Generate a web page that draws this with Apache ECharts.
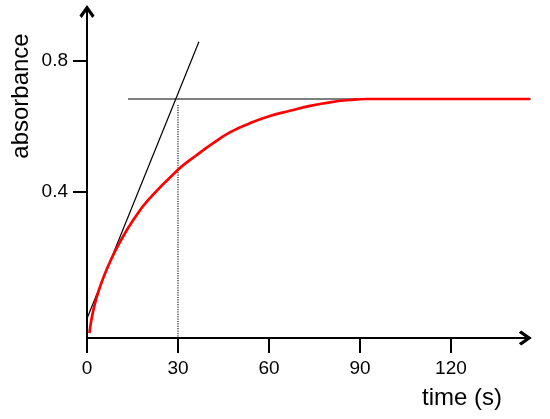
<!DOCTYPE html>
<html>
<head>
<meta charset="utf-8">
<script src="https://cdn.jsdelivr.net/npm/echarts@6/dist/echarts.min.js"></script>
<style>
  html, body { margin: 0; padding: 0; background: #ffffff; }
  #chart { width: 550px; height: 419px; }
</style>
</head>
<body>
<div id="chart"></div>
<script>
// Red absorbance curve (time in s, absorbance)
const curveTime = [0.8, 2.1, 4.3, 7.6, 10.9, 15.3, 20.2, 29.9, 36.2, 41.6, 47.1, 53.7, 60.3, 66.9, 73.5, 80.1, 86.7, 92.2, 110, 130, 146];
const curveAbs  = [-0.031, 0.040, 0.111, 0.187, 0.248, 0.315, 0.376, 0.467, 0.513, 0.549, 0.582, 0.610, 0.632, 0.648, 0.663, 0.674, 0.681, 0.684, 0.684, 0.684, 0.684];
// Initial-slope tangent line
const tangentTime = [0, 36.9];
const tangentAbs  = [0.014, 0.859];
// Plateau line
const plateauTime = [13.5, 150.3];
const plateauAbs  = [0.684, 0.684];
// Dotted marker at the intersection
const markerTime = [30, 30];
const markerAbs  = [0.666, -0.046];
// Ticks
const xTicks = [0, 30, 60, 90, 120];
const yTicks = [0.4, 0.8];
const xRange = [0, 146];
const yRange = [-0.0458, 0.965];

const zip = (a, b) => a.map((v, i) => [v, b[i]]);
const FONT = "'Liberation Sans', Arial, sans-serif";
const arrowPath = 'path://M50,0 L100,70 L85,86 L50,36 L15,86 L0,70 Z';

const chart = echarts.init(document.getElementById('chart'), null, { renderer: 'canvas' });
chart.setOption({
  animation: false,
  backgroundColor: '#ffffff',
  grid: { left: 87, right: 20.2, top: 7, bottom: 81, containLabel: false },
  xAxis: {
    type: 'value', min: xRange[0], max: xRange[1],
    axisLine: { onZero: false, lineStyle: { color: '#000', width: 2 },
      symbol: ['none', arrowPath], symbolSize: [16, 13], symbolOffset: [0, -4.5] },
    axisTick: { show: true, length: 15, lineStyle: { color: '#000', width: 2 }, customValues: xTicks },
    axisLabel: { show: true, margin: 21, fontSize: 19, color: '#000', fontFamily: FONT, customValues: xTicks },
    splitLine: { show: false }
  },
  yAxis: {
    type: 'value', min: yRange[0], max: yRange[1],
    axisLine: { show: true, onZero: false, lineStyle: { color: '#000', width: 2 },
      symbol: ['none', arrowPath], symbolSize: [16, 13], symbolOffset: [0, -4.5] },
    axisTick: { show: true, length: 14, lineStyle: { color: '#000', width: 2 }, customValues: yTicks },
    axisLabel: { show: true, margin: 19, fontSize: 19, color: '#000', fontFamily: FONT, customValues: yTicks },
    splitLine: { show: false }
  },
  graphic: [
    { type: 'text', x: 21, y: 96, rotation: Math.PI / 2,
      style: { text: 'absorbance', font: '24px ' + FONT, fill: '#000', textAlign: 'center', textVerticalAlign: 'middle' } },
    { type: 'text', x: 462, y: 398,
      style: { text: 'time (s)', font: '24px ' + FONT, fill: '#000', textAlign: 'center', textVerticalAlign: 'middle' } }
  ],
  series: [
    { type: 'line', data: zip(markerTime, markerAbs), showSymbol: false, silent: true,
      lineStyle: { color: '#222', width: 1.2, type: 'dotted' } },
    { type: 'line', data: zip(tangentTime, tangentAbs), showSymbol: false, silent: true, clip: false,
      lineStyle: { color: '#000', width: 1.2 } },
    { type: 'line', data: zip(plateauTime, plateauAbs), showSymbol: false, silent: true, clip: false,
      lineStyle: { color: '#000', width: 1.2 } },
    { type: 'line', data: zip(curveTime, curveAbs), showSymbol: false, silent: true,
      smooth: 0.5,
      lineStyle: { color: '#ff0000', width: 2.7 } }
  ]
});
</script>
</body>
</html>
